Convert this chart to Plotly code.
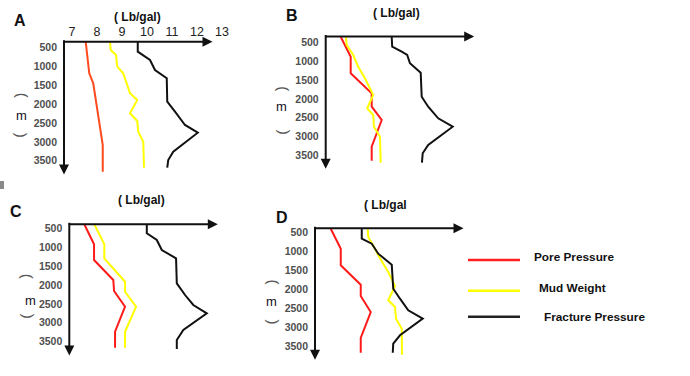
import plotly.graph_objects as go

W, H = 690, 376

# ---------------- data ----------------
x_ticks = [7, 8, 9, 10, 11, 12, 13]
x_tick_labels = ["7", "8", "9", "10", "11", "12", "13"]
y_ticks = [500, 1000, 1500, 2000, 2500, 3000, 3500]
y_tick_labels = ["500", "1000", "1500", "2000", "2500", "3000", "3500"]
panel_letters = ["A", "B", "C", "D"]
panel_units = ["( Lb/gal)", "( Lb/gal)", "( Lb/gal)", "( Lb/gal"]
series_names = ["Pore Pressure", "Mud Weight", "Fracture Pressure"]
depth_label = "m"

# Panel A
a_pore_d = [350, 1180, 1445, 3083, 3792]
a_pore_v = [7.55, 7.69, 7.85, 8.23, 8.23]
a_mud_d = [350, 561, 694, 1004, 1180, 1711, 1889, 2242, 2446, 2730, 2996, 3686]
a_mud_v = [8.52, 8.55, 8.76, 8.81, 9.05, 9.32, 9.61, 9.32, 9.61, 9.65, 9.85, 9.88]
a_frac_d = [350, 606, 827, 1092, 1312, 1934, 2199, 2552, 2757, 3261, 3482, 3686]
a_frac_v = [9.63, 9.63, 10.12, 10.32, 10.79, 10.81, 11.12, 11.52, 12.03, 11.05, 10.85, 10.81]

# Panel B
b_pore_d = [340, 874, 1317, 1852, 2209, 2565, 3278, 3652]
b_pore_v = [7.28, 7.68, 7.68, 8.52, 8.52, 8.92, 8.52, 8.52]
b_mud_d = [340, 561, 829, 1141, 1451, 1897, 2252, 2431, 2744, 3011, 3705]
b_mud_v = [7.49, 7.52, 7.78, 7.98, 8.25, 8.58, 8.34, 8.58, 8.61, 8.85, 8.88]
b_frac_d = [340, 607, 740, 829, 1050, 1301, 1942, 2209, 2519, 2744, 3232, 3454, 3705]
b_frac_v = [9.32, 9.34, 9.72, 9.94, 10.05, 10.48, 10.52, 10.78, 11.18, 11.76, 10.78, 10.56, 10.53]

# Panel C
c_pore_d = [394, 923, 1339, 1868, 2159, 2574, 3236, 3659]
c_pore_v = [7.28, 7.67, 7.67, 8.44, 8.47, 8.91, 8.51, 8.51]
c_mud_d = [394, 923, 1294, 1913, 2178, 2574, 3236, 3659]
c_mud_v = [7.68, 8.08, 8.08, 8.91, 8.91, 9.35, 8.91, 8.91]
c_frac_d = [394, 632, 810, 1074, 1294, 1955, 2265, 2529, 2749, 3191, 3456, 3694]
c_frac_v = [9.78, 9.78, 10.18, 10.38, 10.95, 10.98, 11.31, 11.64, 12.18, 11.24, 10.98, 10.98]

# Panel D
d_pore_d = [395, 924, 1363, 1877, 2176, 2600, 3288, 3678]
d_pore_v = [7.31, 7.71, 7.71, 8.51, 8.51, 8.91, 8.51, 8.51]
d_mud_d = [395, 614, 879, 1143, 1541, 1911, 2290, 2467, 2777, 3042, 3731]
d_mud_v = [8.79, 8.81, 9.04, 9.25, 9.61, 9.88, 9.61, 9.88, 9.92, 10.15, 10.16]
d_frac_d = [395, 659, 791, 1056, 1347, 1983, 2248, 2555, 2777, 3217, 3439, 3678]
d_frac_v = [8.55, 8.55, 8.95, 9.21, 9.75, 9.81, 10.08, 10.41, 10.99, 10.08, 9.81, 9.79]

panels = [
    [(a_pore_v, a_pore_d), (a_mud_v, a_mud_d), (a_frac_v, a_frac_d)],
    [(b_pore_v, b_pore_d), (b_mud_v, b_mud_d), (b_frac_v, b_frac_d)],
    [(c_pore_v, c_pore_d), (c_mud_v, c_mud_d), (c_frac_v, c_frac_d)],
    [(d_pore_v, d_pore_d), (d_mud_v, d_mud_d), (d_frac_v, d_frac_d)],
]

# ---------------- layout / styling ----------------
X_RANGE = [6.68, 13.25]
Y_RANGE = [3870, 330]
X_ARROW_END = 12.62
PX_PER_UNIT = 25.0
FONT = "Liberation Sans, Arial, sans-serif"

# pixel geometry of each panel: (x of depth axis, y of 500 label, px per 500 m)
geo = [(64, 47.7, 18.83), (325.7, 42.7, 18.72), (69.3, 228.3, 18.9), (315, 232.7, 18.88)]
axis_depth = [345, 335, 392, 385]
colors = [
    ["#ff4a1f", "#ffff00", "#111111"],
    ["#ff1a1a", "#ffff00", "#111111"],
    ["#ff1a1a", "#ffff00", "#111111"],
    ["#ff1a1a", "#ffff00", "#111111"],
]

letter_pos = [(20, 20.7), (292, 16), (15.5, 211.5), (282, 217)]
unit_pos = [(137, 16.7), (396.7, 13.3), (141.7, 200), (385.7, 205)]
m_pos = [(21, 115), (281.3, 106), (30, 300), (271.7, 301)]
paren_top = [(22.3, 95), (284, 88.3), (27.5, 276.3), (273.3, 281.7)]
paren_bot = [(22.3, 135), (284, 131.7), (28, 316.7), (273.3, 321.7)]


def px(x):
    return x / W


def py(y):
    return 1 - y / H


fig = go.Figure()
annotations = []
layout_axes = {}

for i, (series, (x0, y5, step)) in enumerate(zip(panels, geo)):
    n = "" if i == 0 else str(i + 1)
    s = step / 500.0
    top = y5 - (500 - Y_RANGE[1]) * s
    bot = y5 + (Y_RANGE[0] - 500) * s
    x1 = x0 + (X_RANGE[1] - X_RANGE[0]) * PX_PER_UNIT
    xa = "x" + n
    ya = "y" + n
    layout_axes["xaxis" + n] = dict(
        domain=[px(x0), px(x1)], range=X_RANGE, anchor=ya, side="top",
        showgrid=False, zeroline=False, showline=False, ticks="",
        tickvals=x_ticks, ticktext=x_tick_labels, showticklabels=(i == 0),
        tickfont=dict(family=FONT, size=12.5, color="#222222"), ticklabelstandoff=2,
    )
    layout_axes["yaxis" + n] = dict(
        domain=[py(bot), py(top)], range=Y_RANGE, anchor=xa,
        showgrid=False, zeroline=False, showline=False, ticks="",
        tickvals=y_ticks, ticktext=y_tick_labels,
        tickfont=dict(family=FONT, size=10.5, color="#505050", weight="bold"),
        ticklabelstandoff=6,
    )
    for (vals, deps), name, col in zip(series, series_names, colors[i]):
        fig.add_trace(go.Scatter(
            x=vals, y=deps, mode="lines", name=name, xaxis=xa, yaxis=ya,
            line=dict(color=col, width=2), showlegend=False, hoverinfo="skip",
        ))
    ad = axis_depth[i]
    # horizontal arrow (value axis)
    annotations.append(dict(
        x=X_ARROW_END, y=ad, ax=X_RANGE[0] - 0.08, ay=ad, xref=xa, yref=ya,
        axref=xa, ayref=ya, text="", showarrow=True, arrowhead=2, arrowsize=1,
        arrowwidth=2, arrowcolor="#111111", standoff=0, startstandoff=0,
    ))
    # vertical arrow (depth axis)
    annotations.append(dict(
        x=X_RANGE[0], y=Y_RANGE[0] - 5, ax=X_RANGE[0], ay=ad - 80, xref=xa, yref=ya,
        axref=xa, ayref=ya, text="", showarrow=True, arrowhead=2, arrowsize=1,
        arrowwidth=2, arrowcolor="#111111", standoff=0, startstandoff=0,
    ))
    lx, ly = letter_pos[i]
    annotations.append(dict(x=px(lx), y=py(ly), xref="paper", yref="paper",
                            text=panel_letters[i], showarrow=False,
                            font=dict(family=FONT, size=16, color="#111111", weight="bold"),
                            xanchor="center", yanchor="middle"))
    ux, uy = unit_pos[i]
    annotations.append(dict(x=px(ux), y=py(uy), xref="paper", yref="paper",
                            text=panel_units[i], showarrow=False,
                            font=dict(family=FONT, size=12, color="#111111", weight="bold"),
                            xanchor="center", yanchor="middle"))
    mx, my = m_pos[i]
    annotations.append(dict(x=px(mx), y=py(my), xref="paper", yref="paper",
                            text=depth_label, showarrow=False,
                            font=dict(family=FONT, size=13, color="#111122"),
                            xanchor="center", yanchor="middle"))
    tx, ty = paren_top[i]
    annotations.append(dict(x=px(tx), y=py(ty), xref="paper", yref="paper",
                            text="(", textangle=90, showarrow=False,
                            font=dict(family=FONT, size=15, color="#555555"),
                            xanchor="center", yanchor="middle"))
    bx, by = paren_bot[i]
    annotations.append(dict(x=px(bx), y=py(by), xref="paper", yref="paper",
                            text=")", textangle=90, showarrow=False,
                            font=dict(family=FONT, size=15, color="#555555"),
                            xanchor="center", yanchor="middle"))

# legend (drawn)
legend_colors = ["#ff2020", "#ffff00", "#222222"]
legend_line_y = [260, 290.7, 316.7]
legend_text_x = [531.7, 537.3, 541.7]
legend_text_y = [257.3, 288.3, 317.3]
shapes = []
for name, col, ly, tx, ty in zip(series_names, legend_colors, legend_line_y,
                                  legend_text_x, legend_text_y):
    shapes.append(dict(type="line", xref="paper", yref="paper",
                       x0=px(468), x1=px(520), y0=py(ly), y1=py(ly),
                       line=dict(color=col, width=2.5)))
    annotations.append(dict(x=px(tx), y=py(ty), xref="paper", yref="paper",
                            text=name, showarrow=False, xanchor="left", yanchor="middle",
                            font=dict(family=FONT, size=11.8, color="#111111", weight="bold")))

# small grey mark at the left edge
shapes.append(dict(type="rect", xref="paper", yref="paper", x0=px(0), x1=px(4),
                   y0=py(189), y1=py(181), fillcolor="#8a8a8a", line=dict(width=0)))

fig.update_layout(
    width=W, height=H, margin=dict(l=0, r=0, t=0, b=0),
    paper_bgcolor="white", plot_bgcolor="white", showlegend=False,
    annotations=annotations, shapes=shapes, **layout_axes,
)

fig.write_html("out.html", post_script="document.body.style.margin='0px';",
               config={"displayModeBar": False})
